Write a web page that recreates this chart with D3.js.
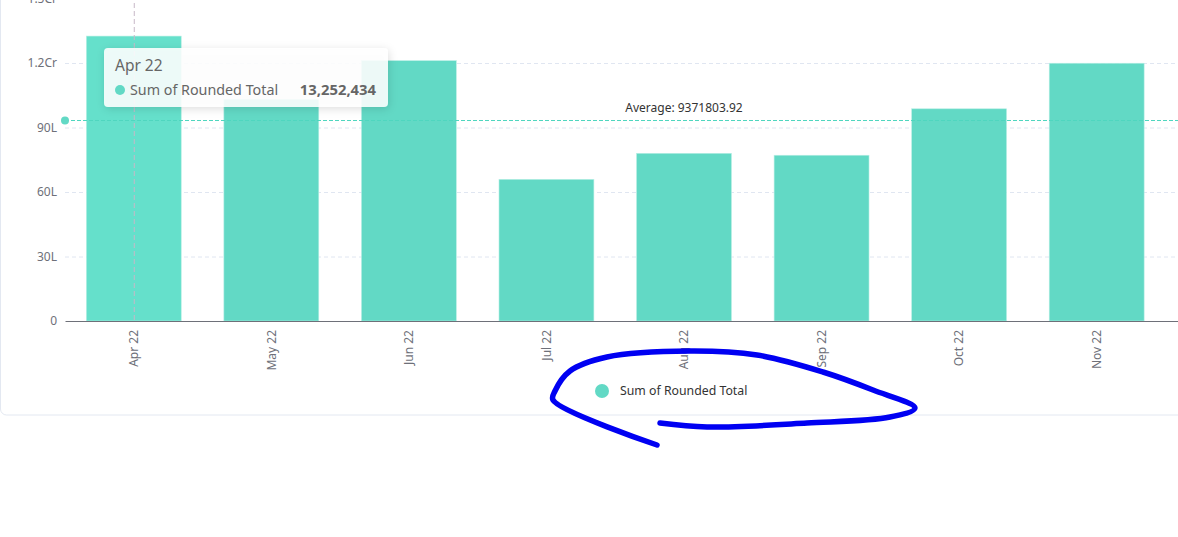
<!DOCTYPE html>
<html>
<head>
<meta charset="utf-8">
<script src="https://cdn.jsdelivr.net/npm/d3@7"></script>
<style>
  html, body { margin: 0; padding: 0; background: #fff; overflow: hidden; }
  svg { display: block; font-family: "Noto Sans", "Open Sans", sans-serif; }
</style>
</head>
<body>
<svg id="chart" width="1178" height="537"></svg>
<script>
// chart data
const categories = ["Apr 22", "May 22", "Jun 22", "Jul 22", "Aug 22", "Sep 22", "Oct 22", "Nov 22", "Dec 22"];
const totals = [13252434, 10310000, 12110000, 6590000, 7800000, 7710000, 9870000, 11990000, 4700000];
const averageValue = 9371803.92;
const yTicks = [0, 3000000, 6000000, 9000000, 12000000, 15000000];
const yTickLabels = ["0", "30L", "60L", "90L", "1.2Cr", "1.5Cr"];
const seriesName = "Sum of Rounded Total";
const hoverIndex = 0;

// hand drawn circle around the legend (annotation, not data)
const scribble = [[657, 445], [553, 400], [555, 391], [570, 371], [607, 357], [690, 351], [757, 355],
    [823, 372], [873, 390], [915, 408], [890, 417], [807, 423], [707, 427], [660, 423]];

const svg = d3.select("#chart");
const margin = { left: 65, right: 1303, top: -1.5, bottom: 321 };
const barColor = "#62d9c5";
const gridColor = "#e0e6f1";
const axisText = "#6e7079";

const x = d3.scaleBand().domain(categories).range([margin.left, margin.right])
    .paddingInner(0.31).paddingOuter(0.155);
const y = d3.scaleLinear().domain([0, 15000000]).range([margin.bottom, margin.top]);

// card outline
svg.append("rect")
    .attr("x", 0.5).attr("y", -20).attr("width", 1400).attr("height", 435)
    .attr("rx", 6)
    .attr("fill", "none").attr("stroke", "#e3e8f1");

// grid lines
svg.append("g").selectAll("line")
    .data(yTicks.slice(1))
    .join("line")
    .attr("x1", margin.left).attr("x2", margin.right)
    .attr("y1", d => y(d) + 0.5).attr("y2", d => y(d) + 0.5)
    .attr("stroke", gridColor).attr("stroke-dasharray", "4,3");

// y tick labels
const yAxis = d3.axisLeft(y).tickValues(yTicks).tickSize(0).tickPadding(8)
    .tickFormat((d, i) => yTickLabels[i]);
const gy = svg.append("g").attr("transform", `translate(${margin.left},0)`).call(yAxis);
gy.select(".domain").remove();
gy.selectAll("text").attr("fill", axisText).attr("font-size", 12)
    .attr("font-family", "Noto Sans, sans-serif");

// bars
svg.append("g").selectAll("rect")
    .data(totals)
    .join("rect")
    .attr("x", (d, i) => x(categories[i]))
    .attr("width", x.bandwidth())
    .attr("y", d => y(d))
    .attr("height", d => y(0) - y(d))
    .attr("fill", (d, i) => i === hoverIndex ? "#65e0cb" : barColor)
    .attr("stroke", "#b9efe5").attr("stroke-width", 0.6);

// x axis
const xAxis = d3.axisBottom(x).tickSize(0).tickPadding(8);
const gx = svg.append("g").attr("transform", `translate(0,${margin.bottom})`).call(xAxis);
gx.select(".domain").attr("stroke", axisText).attr("stroke-width", 1);
gx.selectAll("text")
    .attr("fill", axisText).attr("font-size", 12)
    .attr("font-family", "Noto Sans, sans-serif")
    .attr("transform", "rotate(-90)")
    .attr("text-anchor", "end")
    .attr("dy", "0.35em")
    .attr("x", -9).attr("y", 0);

// hover crosshair
svg.append("line")
    .attr("x1", x(categories[hoverIndex]) + x.bandwidth() / 2 + 0.5)
    .attr("x2", x(categories[hoverIndex]) + x.bandwidth() / 2 + 0.5)
    .attr("y1", -5).attr("y2", margin.bottom)
    .attr("stroke", "#c7b8c8").attr("stroke-dasharray", "5,3");

// average line
const avgY = Math.round(y(averageValue)) + 0.5;
svg.append("line")
    .attr("x1", margin.left).attr("x2", margin.right)
    .attr("y1", avgY).attr("y2", avgY)
    .attr("stroke", "#4fd6bf").attr("stroke-width", 1.1)
    .attr("stroke-dasharray", "4,2");
svg.append("circle")
    .attr("cx", margin.left).attr("cy", avgY).attr("r", 4)
    .attr("fill", barColor);
svg.append("text")
    .attr("x", (margin.left + margin.right) / 2).attr("y", avgY - 9)
    .attr("text-anchor", "middle").attr("font-size", 12).attr("fill", "#333")
    .text("Average: " + averageValue);

// legend
const legend = svg.append("g").attr("transform", "translate(602,391)");
legend.append("circle").attr("r", 7).attr("fill", barColor);
legend.append("text").attr("x", 18).attr("dy", "0.35em")
    .attr("font-size", 12.3).attr("fill", "#333").text(seriesName);

// tooltip
const defs = svg.append("defs");
const shadow = defs.append("filter").attr("id", "shadow")
    .attr("x", "-20%").attr("y", "-30%").attr("width", "140%").attr("height", "160%");
shadow.append("feDropShadow").attr("dx", 1).attr("dy", 2).attr("stdDeviation", 4)
    .attr("flood-color", "#000").attr("flood-opacity", 0.15);

const tip = svg.append("g").attr("transform", "translate(104,48)");
tip.append("rect")
    .attr("width", 284).attr("height", 59).attr("rx", 4)
    .attr("fill", "rgba(255,255,255,0.88)")
    .attr("filter", "url(#shadow)");
tip.append("text").attr("x", 11).attr("y", 23)
    .attr("font-size", 15.5).attr("fill", "#666").text(categories[hoverIndex]);
tip.append("circle").attr("cx", 16).attr("cy", 42).attr("r", 5).attr("fill", barColor);
tip.append("text").attr("x", 26).attr("y", 47)
    .attr("font-size", 14.3).attr("fill", "#666").text(seriesName);
tip.append("text").attr("x", 272).attr("y", 47).attr("text-anchor", "end")
    .attr("font-size", 14.8).attr("font-weight", "bold").attr("fill", "#666")
    .text(d3.format(",")(totals[hoverIndex]));

// blue pen annotation
svg.append("path")
    .attr("d", d3.line().curve(d3.curveCatmullRom)(scribble))
    .attr("fill", "none").attr("stroke", "#0000f2")
    .attr("stroke-width", 5.5).attr("stroke-linecap", "round").attr("stroke-linejoin", "round");
</script>
</body>
</html>
